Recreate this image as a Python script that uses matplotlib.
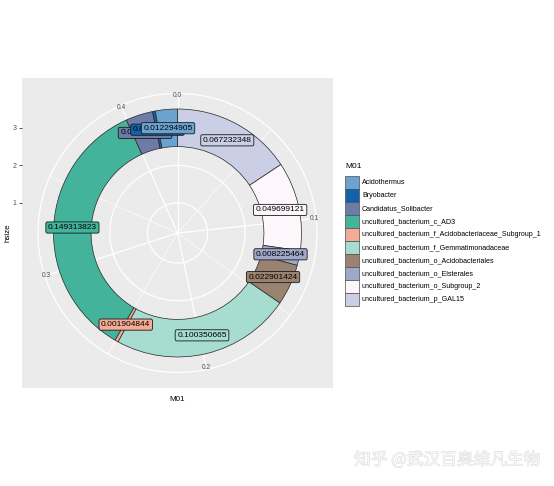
import matplotlib
matplotlib.use('Agg')
import matplotlib.pyplot as plt
import matplotlib.patheffects as pe
from matplotlib.patches import Patch
import numpy as np

plt.rcParams['font.family'] = ['Liberation Sans', 'DejaVu Sans']

# 数据 (legend order)
taxa = ['Acidothermus', 'Bryobacter', 'Candidatus_Solibacter',
        'uncultured_bacterium_c_AD3',
        'uncultured_bacterium_f_Acidobacteriaceae_Subgroup_1',
        'uncultured_bacterium_f_Gemmatimonadaceae',
        'uncultured_bacterium_o_Acidobacteriales',
        'uncultured_bacterium_o_Elsterales',
        'uncultured_bacterium_o_Subgroup_2',
        'uncultured_bacterium_p_GAL15']
abund = [0.012294905, 0.001538462, 0.015092413, 0.149313823, 0.001904844,
         0.100350665, 0.022901424, 0.008225464, 0.049699121, 0.067232348]
fills = ['#6BA3D0', '#1162A8', '#6D7BA6', '#43B39C', '#F4AA94',
         '#A7DCD1', '#9A8270', '#9FA8C8', '#FDF6FA', '#CBCFE6']
hsize = 3
r_lim = (0.2, hsize + 0.5)
r_breaks = [1, 2, 3]
theta_breaks = [0.0, 0.1, 0.2, 0.3, 0.4]
theta_minor = [0.05, 0.15, 0.25, 0.35]

W, H = 554, 486
fig = plt.figure(figsize=(W / 100, H / 100), dpi=100)


def px(x0, y0, w, h):
    return [x0 / W, 1 - (y0 + h) / H, w / W, h / H]


panel = px(22, 78, 311, 310)
span = r_lim[1] - r_lim[0]
half = span * 1.25          # ggplot puts the r range on 0..0.4 of the panel
r_outer = r_lim[0] + span * 0.45 / 0.4

# 背景面板 + 左侧 hsize 轴
bg = fig.add_axes(panel)
bg.set_facecolor('#EBEBEB')
bg.set_xlim(-1, 1)
bg.set_ylim(r_lim[0] - half, r_lim[0] + half)
bg.set_xticks([])
bg.set_yticks(r_breaks)
bg.set_yticklabels([str(b) for b in r_breaks])
bg.tick_params(axis='y', length=2.5, width=0.6, color='#333333',
               labelcolor='#4D4D4D', labelsize=5, pad=1.5)
for s in bg.spines.values():
    s.set_visible(False)
bg.set_ylabel('hsize', fontsize=5.8, labelpad=1)
bg.set_xlabel('M01', fontsize=5.8, labelpad=6)

# 极坐标环
ax = fig.add_axes(panel, projection='polar')
ax.set_theta_zero_location('N')
ax.set_theta_direction(-1)
ax.set_ylim(r_lim[0], r_lim[0] + half)
ax.set_facecolor('none')
ax.axis('off')

total = sum(abund)


def to_theta(v):
    return np.asarray(v) / total * 2 * np.pi


tt = np.linspace(0, 2 * np.pi, 400)
for rb in r_breaks + [r_outer]:
    ax.plot(tt, np.full_like(tt, rb), color='white', lw=0.9, zorder=1)
for b in theta_minor:
    ax.plot([to_theta(b)] * 2, [r_lim[0], r_outer], color='white', lw=0.45, zorder=1)
for b in theta_breaks:
    ax.plot([to_theta(b)] * 2, [r_lim[0], r_outer], color='white', lw=0.9, zorder=1)
    ax.text(to_theta(b), r_outer - 0.05, f'{b:.1f}', ha='center', va='center',
            fontsize=4.8, color='#4D4D4D', zorder=2)

# 堆叠: last level starts at 0
order = list(range(len(taxa)))[::-1]
starts = {}
cum = 0.0
for i in order:
    starts[i] = cum
    cum += abund[i]

ax.bar([to_theta(starts[i]) for i in order], 1,
       width=[to_theta(abund[i]) for i in order], bottom=hsize - 0.5,
       align='edge', color=[fills[i] for i in order],
       edgecolor='#262626', linewidth=0.5, zorder=3)

for i in order:
    mid = to_theta(starts[i] + abund[i] / 2)
    ax.text(mid, hsize, str(abund[i]), ha='center', va='center', fontsize=6,
            color='black', zorder=20 - i,
            bbox=dict(boxstyle='round,pad=0.25,rounding_size=0.2',
                      fc=fills[i], ec='#1a1a1a', lw=0.6))

# 图例
handles = [Patch(facecolor=c, edgecolor='#4D4D4D', linewidth=0.5) for c in fills]
leg = fig.legend(handles, taxa, title='M01', loc='upper left',
                 bbox_to_anchor=(345 / W, 1 - 163 / H), frameon=False,
                 fontsize=5.1, title_fontsize=6, handlelength=1.98, handleheight=2.45,
                 handletextpad=0.42, labelspacing=0, borderaxespad=0, borderpad=0,
                 alignment='left')
leg._legend_box.sep = 4

# 水印
fig.text(447 / W, 1 - 460 / H, '知乎 @武汉百奥维凡生物', ha='center', va='center',
         fontsize=12, color='#F7F7F7',
         family=['Noto Sans CJK SC', 'DejaVu Sans'],
         path_effects=[pe.withStroke(linewidth=0.6, foreground='#D8D8D8')])

fig.savefig('out.png', dpi=100, facecolor='white')
